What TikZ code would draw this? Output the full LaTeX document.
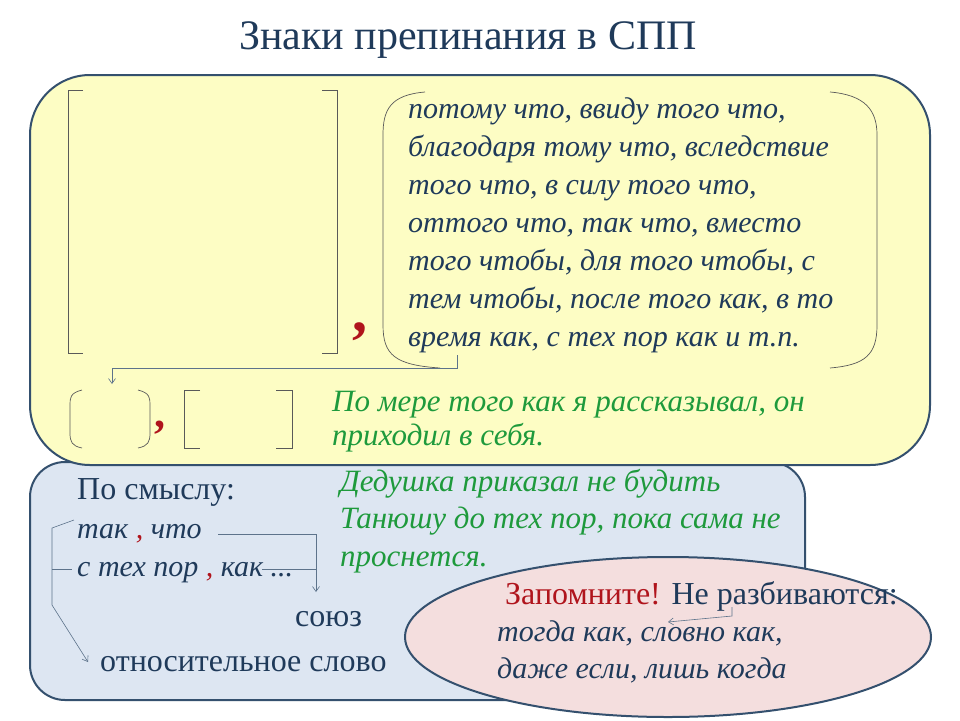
\documentclass[tikz,border=0pt]{standalone}
\usepackage{fontspec}
\setmainfont{Liberation Serif}
\usetikzlibrary{arrows.meta}
\definecolor{ink}{HTML}{1F3A5A}
\definecolor{edge}{HTML}{34506E}
\definecolor{gr}{HTML}{1E9A3C}
\definecolor{rd}{HTML}{B0141C}
\definecolor{bluebg}{HTML}{DDE6F2}
\definecolor{yelbg}{HTML}{FDFDC4}
\definecolor{pinkbg}{HTML}{F4DEDE}
\tikzset{
 br/.style={draw=gray!70!black, line width=0.7pt},
 arr/.style={draw=edge!80, line width=0.6pt, -{Straight Barb[length=5pt,width=7pt]}},
 ln/.style={draw=edge!80, line width=0.6pt},
 tx/.style={anchor=west, inner sep=0pt, yshift=-5pt, text height=0.7em, text depth=0.22em, font=\fontsize{30}{30}\selectfont\itshape, text=ink},
 gt/.style={tx, font=\fontsize{31}{31}\selectfont\itshape, text=gr},
 nt/.style={anchor=west, inner sep=0pt, yshift=-5pt, text height=0.7em, text depth=0.22em, font=\fontsize{32}{32}\selectfont, text=ink},
}
\begin{document}
\begin{tikzpicture}[x=1pt,y=-1pt]
\useasboundingbox (0,0) rectangle (960,720);
\fill[white] (0,0) rectangle (960,720);
\node[anchor=center, font=\fontsize{42}{42}\selectfont, text=ink] (title) at (468,40) {Знаки препинания в СПП};
\draw[edge, line width=2pt, fill=bluebg, rounded corners=35pt] (30,462) rectangle (805,700);
\draw[edge, line width=2pt, fill=yelbg, rounded corners=60pt] (30,75) rectangle (930,465);
\draw[edge, line width=2pt, fill=pinkbg] (668,637) ellipse (263 and 80);
% big brackets
\draw[br] (83,90) -- (68,90) -- (68,353) -- (83,353);
\draw[br] (322,90) -- (337,90) -- (337,353) -- (322,353);
\draw[br] (425,92) .. controls (390,95) and (383,110) .. (383,135) -- (383,325) .. controls (383,355) and (395,365) .. (440,368);
\draw[br] (830,92) .. controls (865,95) and (877,110) .. (877,135) -- (877,325) .. controls (877,355) and (865,365) .. (830,368);
\node[font=\fontsize{60}{60}\selectfont\bfseries, text=rd, inner sep=0pt] (c1) at (360,332) {,};
% arrow
\coordinate (a0) at (457,355);
\coordinate (a1) at (457,368);
\coordinate (a2) at (112,368);
\coordinate (a3) at (112,384);
\draw[arr] (a0) -- (a1) -- (a2) -- (a3);
% small brackets
\draw[br] (82,390) .. controls (70,393) and (70,398) .. (70,405) -- (70,433) .. controls (70,442) and (72,446) .. (82,448);
\draw[br] (138,390) .. controls (150,393) and (150,398) .. (150,405) -- (150,433) .. controls (150,442) and (148,446) .. (138,448);
\node[font=\fontsize{44}{44}\selectfont\bfseries, text=rd, inner sep=0pt] (c2) at (160,428) {,};
\draw[br] (200,390) -- (184,390) -- (184,448) -- (200,448);
\draw[br] (276,390) -- (292,390) -- (292,448) -- (276,448);
% list text
\foreach \t [count=\i from 0] in {{потому что, ввиду того что,}, {благодаря тому что, вследствие}, {того что, в силу того что,}, {оттого что, так что, вместо}, {того чтобы, для того чтобы, с}, {тем чтобы, после того как, в то}, {время как, с тех пор как и т.п.}}
  \node[tx] (l\i) at (408,{111+38*\i}) {\t};
\node[gt] (g1) at (332,404) {По мере того как я рассказывал, он};
\node[gt] (g2) at (332,438) {приходил в себя.};
\node[gt] (d1) at (340,484) {Дедушка приказал не будить};
\node[gt] (d2) at (340,521) {Танюшу до тех пор, пока сама не};
\node[gt] (d3) at (340,559) {проснется.};
\node[nt] (ps) at (77,492) {По смыслу:};
\node[tx] (tk) at (77,531) {так {\color{rd},} что};
\node[tx] (st) at (77,569) {с тех пор {\color{rd},} как ...};
\node[nt] (sz) at (295,619) {союз};
\node[nt] (os) at (100,664) {относительное слово};
\coordinate (b0) at (74,520);
\coordinate (b1) at (52,528);
\coordinate (b2) at (52,605);
\coordinate (b3) at (88,662);
\draw[arr] (b0) -- (b1) -- (b2) -- (b3);
\coordinate (e0) at (52,569);
\coordinate (e1) at (72,569);
\draw[ln] (e0) -- (e1);
\coordinate (r0) at (218,534);
\coordinate (r1) at (316,534);
\coordinate (r2) at (316,592);
\draw[arr] (r0) -- (r1) -- (r2);
\coordinate (s0) at (262,569);
\coordinate (s1) at (316,569);
\draw[ln] (s0) -- (s1);
% ellipse text
\node[nt] (zp) at (505,597) {{\color{rd}Запомните!} Не разбиваются:};
\node[tx] (t1) at (497,634) {тогда как, словно как,};
\node[tx] (t2) at (497,671) {даже если, лишь когда};
\coordinate (k0) at (732,607);
\coordinate (k1) at (732,616);
\coordinate (k2) at (668,622);
\draw[arr] (k0) -- (k1) -- (k2);
\end{tikzpicture}
\end{document}
